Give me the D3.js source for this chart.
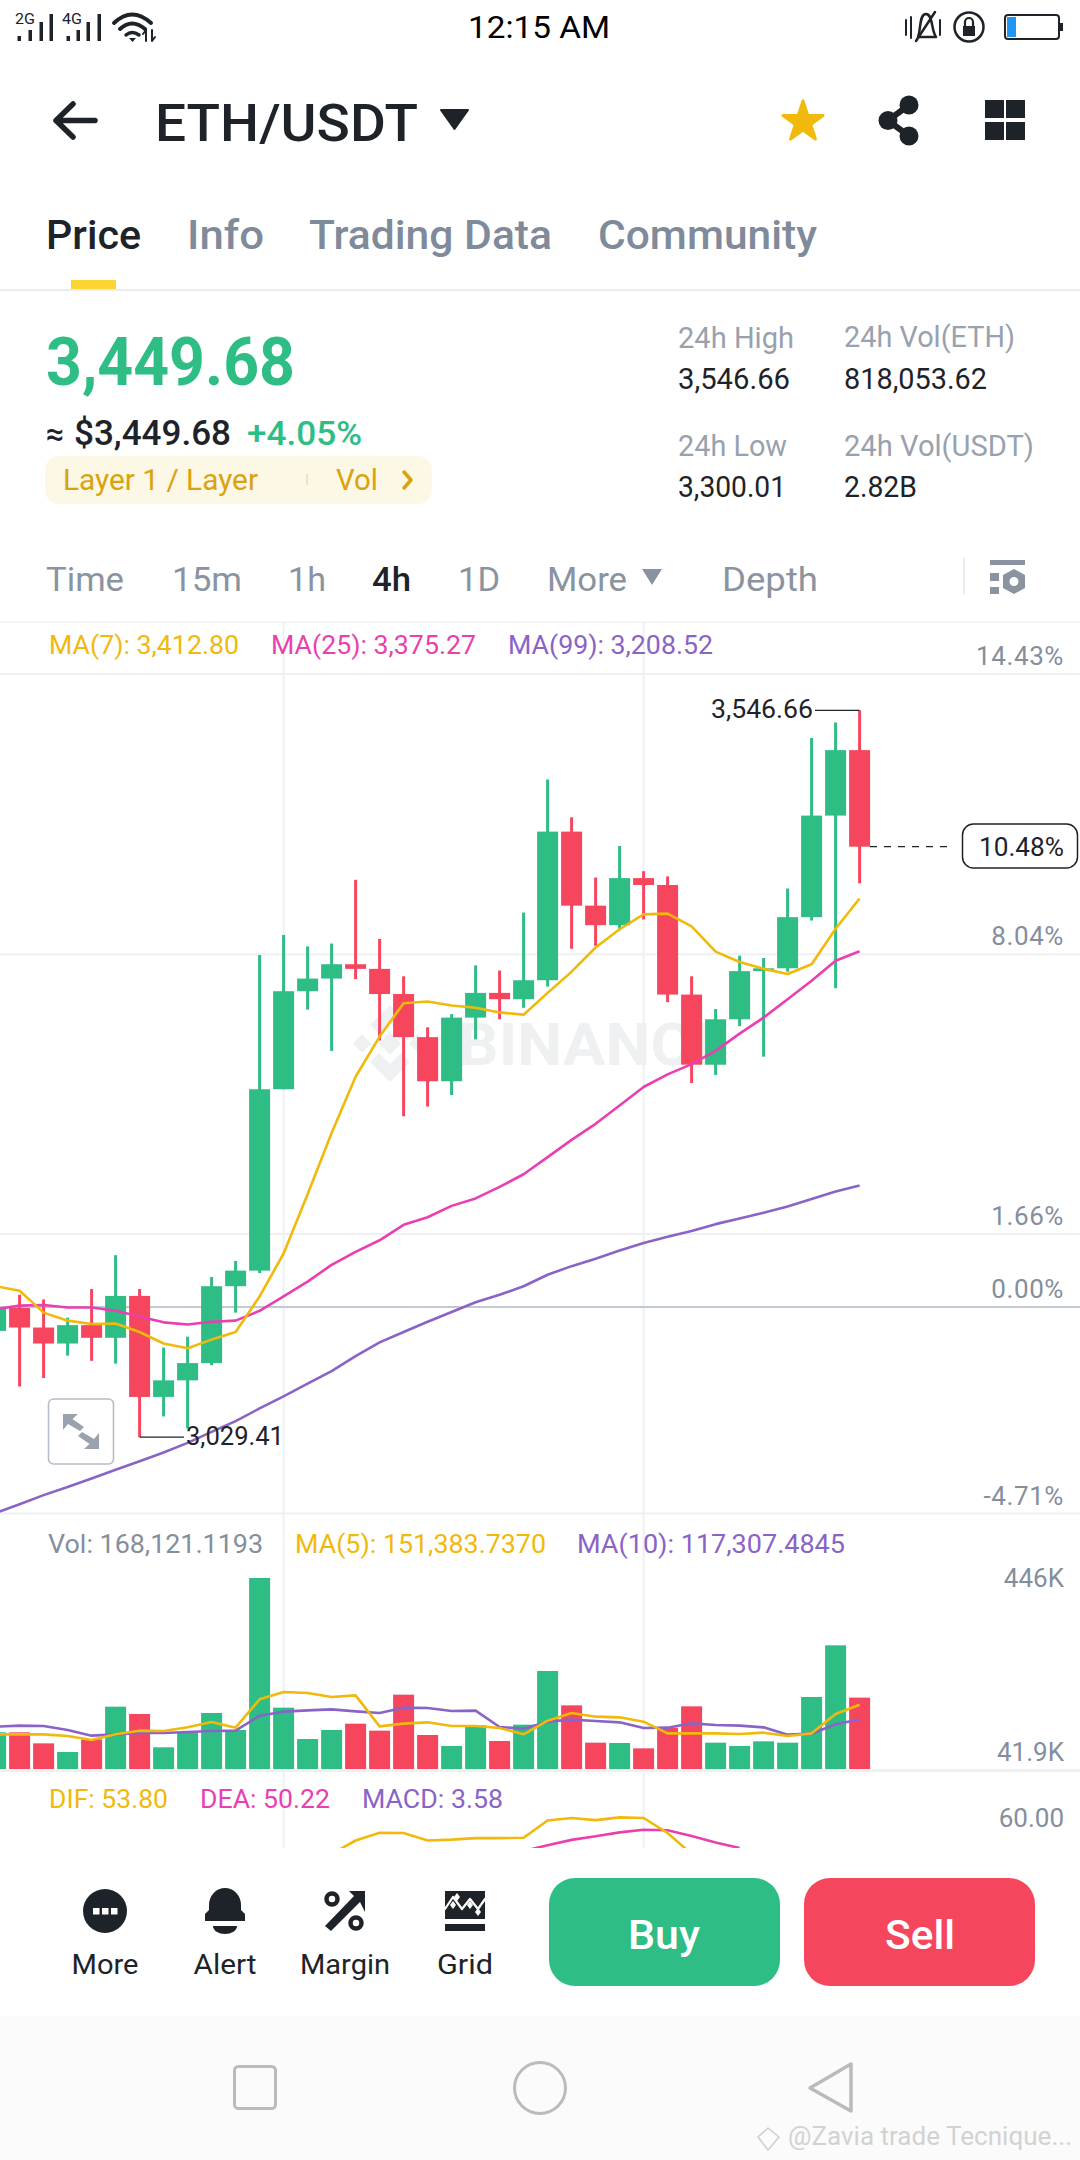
<!DOCTYPE html>
<html>
<head>
<meta charset="utf-8">
<title>ETH/USDT</title>
<script src="https://cdn.jsdelivr.net/npm/d3@7"></script>
<style>
  html, body { margin: 0; padding: 0; background: #fff; }
  svg { display: block; }
  text { font-family: Roboto, "Noto Sans", sans-serif; }
</style>
</head>
<body>
<div id="viz"></div>
<script>
// candles, oldest first; the first one is cut off by the left edge
const open  = [3105.0,3121.3,3107.4,3096.0,3109.1,3100.1,3129.9,3058.0,3069.8,3082.1,3136.8,3147.9,3277.0,3346.8,3355.8,3366.0,3362.7,3344.8,3314.1,3282.7,3328.0,3345.6,3341.1,3354.6,3460.4,3407.7,3393.8,3427.3,3422.4,3344.4,3294.5,3326.8,3361.1,3363.1,3399.5,3471.8,3518.4];
const high  = [3124.6,3130.7,3127.4,3114.4,3134.8,3158.9,3134.8,3093.1,3100.9,3143.4,3154.8,3372.5,3386.8,3378.7,3380.7,3426.1,3384.0,3357.4,3321.1,3330.5,3365.2,3361.5,3402.8,3497.5,3470.6,3427.7,3450.2,3432.2,3428.5,3357.4,3334.1,3372.1,3370.5,3419.9,3527.0,3538.0,3546.66];
const low   = [3103.0,3065.4,3071.5,3087.4,3083.7,3081.7,3029.41,3044.1,3035.5,3080.5,3118.0,3146.2,3277.0,3333.7,3304.3,3355.4,3311.7,3257.8,3264.7,3272.9,3312.5,3326.8,3335.0,3350.1,3377.0,3379.1,3390.1,3397.9,3339.0,3281.4,3287.2,3321.9,3300.2,3360.7,3397.1,3348.9,3423.6];
const close = [3121.3,3107.4,3096.0,3109.1,3100.1,3129.9,3058.0,3069.8,3082.1,3136.8,3147.9,3277.0,3346.8,3355.8,3366.0,3362.7,3344.8,3314.1,3282.7,3328.0,3345.6,3341.1,3354.6,3460.4,3407.7,3393.8,3427.3,3422.4,3344.4,3294.5,3326.8,3361.1,3363.1,3399.5,3471.8,3518.4,3449.68];

const ma7  = [3136.8,3133.6,3118.0,3112.3,3109.9,3110.3,3104.2,3096.0,3092.7,3098.8,3104.2,3129.5,3160.1,3202.2,3245.9,3285.9,3314.5,3338.2,3339.5,3336.6,3335.0,3331.7,3330.1,3345.6,3360.7,3377.9,3390.9,3401.5,3402.0,3393.0,3375.0,3367.6,3362.7,3359.1,3366.0,3391.3,3412.8];
const ma25 = [3120.5,3123.0,3123.4,3121.7,3121.7,3119.3,3115.2,3111.1,3109.5,3111.5,3112.3,3119.3,3129.5,3140.1,3152.0,3161.3,3169.5,3180.5,3185.9,3194.0,3199.3,3207.5,3216.5,3228.7,3241.0,3252.4,3265.5,3278.6,3287.6,3294.9,3304.3,3316.6,3328.0,3341.1,3354.2,3368.5,3375.27];
const ma99 = [2975.5,2981.6,2988.1,2993.9,3000.0,3006.1,3012.2,3018.4,3025.3,3033.1,3040.8,3049.8,3058.4,3067.4,3076.4,3087.0,3096.8,3104.2,3111.5,3118.5,3125.4,3130.7,3136.8,3145.0,3151.1,3156.4,3162.2,3167.5,3172.0,3176.1,3181.0,3185.0,3189.1,3193.6,3198.9,3204.2,3208.52];

const volume = [87500,87500,61900,41900,71200,147100,130100,52700,87500,132400,92900,446000,144800,72000,92900,107600,91400,175000,81300,55700,103800,67400,105300,230000,150200,63500,62700,50300,98300,147900,63500,55700,66600,63500,169600,289600,168121];
const volMa5  = [82850,82850,82850,78980,69690,82850,91370,90590,99110,111500,98340,164150,181190,178860,169570,173440,101430,107630,110720,102210,102210,97560,82850,114600,132400,123890,122340,112270,85170,85170,85170,83620,86720,78980,85170,130080,151384];
const volMa10 = [100660,102980,102210,92920,79750,82850,85950,85950,88270,90590,91370,126210,135500,138600,140920,136280,132400,144790,144020,137050,137830,99880,96010,112270,116920,113820,110720,97560,98340,108400,104530,102980,99110,82080,84400,106080,117307];

// only the top of the MACD lines is visible, the panel is cut by the toolbar
const difStart = 14;
const dif = [24,37.5,45.3,45,37.5,38.4,39.9,39.9,40.2,57.6,60,57.9,60.6,60,45,24];
const deaStart = 21;
const dea = [21,27,32.7,38.1,41.7,45.6,48.3,47.7,42,35.4,30];

const pctTicks = [14.43, 8.04, 1.66, 0, -4.71];
const volTicks = [446000, 41900];
const macdTicks = [60];
const lastPrice = 3449.68;
const lastPct = 10.48;
const basePrice = lastPrice / (1 + lastPct / 100);

const UP = '#2ebd85', DOWN = '#f6465d', DARK = '#1e2329', GREY = '#848e9c', GRID = '#eef0f2';
const YELLOW = '#f0b90b', PINK = '#e93fb0', PURPLE = '#8a63c7';

const svg = d3.select('#viz').append('svg').attr('width', 1080).attr('height', 2160).attr('viewBox', '0 0 1080 2160');

function txt(str, x, y, size, color, opt = {}) {
  const t = svg.append('text').attr('x', x).attr('y', y).attr('font-size', size).attr('fill', color)
    .attr('font-weight', opt.weight || 400).attr('text-anchor', opt.anchor || 'start').text(str);
  if (opt.w) t.attr('textLength', opt.w).attr('lengthAdjust', 'spacingAndGlyphs');
  return t;
}
function path(d, fill, stroke, sw) {
  return svg.append('path').attr('d', d).attr('fill', fill || 'none').attr('stroke', stroke || 'none')
    .attr('stroke-width', sw || 0).attr('stroke-linejoin', 'round').attr('stroke-linecap', 'round');
}

// ---- status bar
const signal = [[15, '2G', [19, 30, 41, 51]], [62, '4G', [68, 78, 88, 99]]];
const barTops = [36, 30, 22, 14];
signal.forEach(([x, lab, bars]) => {
  txt(lab, x, 24, 15, DARK, {w: 20});
  bars.forEach((b, i) => svg.append('rect').attr('x', b - 1.5).attr('y', barTops[i]).attr('width', 3.5).attr('height', 41 - barTops[i]).attr('fill', DARK));
});
path('M114 23 Q132 6 151 23', null, DARK, 4);
path('M120 29 Q132 18 145 29', null, DARK, 4);
path('M126 35 Q132 30 139 35', null, DARK, 3.5);
path('M129 38 L136 38 L132.5 42 Z', DARK);
path('M146 30 V41 M152 41 V30 M146 30 L143 34 M152 41 L155 37', null, DARK, 2);
txt('12:15 AM', 539, 38, 31, '#000', {anchor: 'middle', w: 142});
path('M918 37 C921 30 919 14 926 14 C933 14 931 30 936 37 Z', null, DARK, 2.5);
path('M935 12 L916 41', null, DARK, 2.5);
path('M906 20 V35 M911 17 V38 M940 20 V35', null, DARK, 2);
svg.append('circle').attr('cx', 969).attr('cy', 27).attr('r', 14.5).attr('fill', 'none').attr('stroke', DARK).attr('stroke-width', 2.5);
svg.append('rect').attr('x', 963).attr('y', 26).attr('width', 12).attr('height', 10).attr('fill', DARK);
path('M965 26 V22 A4 4 0 0 1 973 22 V26', null, DARK, 2.2);
svg.append('rect').attr('x', 1005).attr('y', 15).attr('width', 54).attr('height', 24).attr('rx', 3).attr('fill', 'none').attr('stroke', DARK).attr('stroke-width', 2);
svg.append('rect').attr('x', 1007).attr('y', 17).attr('width', 9).attr('height', 20).attr('fill', '#2196f3');
svg.append('rect').attr('x', 1060).attr('y', 23).attr('width', 3).attr('height', 8).attr('fill', DARK);

// ---- header
path('M95 120.5 H57 M73 104 L56 120.5 L73 137', null, DARK, 5.5);
txt('ETH/USDT', 155, 141, 51, DARK, {weight: 500, w: 263});
path('M441 110 H468 L454.5 129 Z', DARK, DARK, 2);
path(d3.symbol(d3.symbolStar, 500)(), YELLOW, YELLOW, 3).attr('transform', 'translate(803,122)');
path('M909 105 L888 120.5 L909 136', null, DARK, 6);
[[909, 105], [888, 120.5], [909, 136]].forEach(([cx, cy]) => svg.append('circle').attr('cx', cx).attr('cy', cy).attr('r', 9.5).attr('fill', DARK));
[[985, 100], [1006, 100], [985, 122], [1006, 122]].forEach(([rx, ry]) => svg.append('rect').attr('x', rx).attr('y', ry).attr('width', 19).attr('height', 18).attr('fill', DARK));

const tabLabels = [['Price', 46, 95, DARK], ['Info', 187, 77, '#7f8a9a'], ['Trading Data', 309, 243, '#7f8a9a'], ['Community', 598, 219, '#7f8a9a']];
tabLabels.forEach(([s, x, w, c]) => txt(s, x, 249, 41, c, {weight: 500, w}));
svg.append('rect').attr('x', 71).attr('y', 280).attr('width', 45).attr('height', 9).attr('fill', '#fcd535');
svg.append('rect').attr('x', 0).attr('y', 289).attr('width', 1080).attr('height', 2).attr('fill', '#eaecef');

// ---- price block
txt('3,449.68', 46, 385, 66, UP, {weight: 700, w: 249});
txt('≈', 46, 445, 32, DARK, {weight: 500});
txt('$3,449.68', 74, 445, 35, DARK, {weight: 500, w: 157});
txt('+4.05%', 247, 445, 33, UP, {weight: 500, w: 115});
svg.append('rect').attr('x', 45).attr('y', 456).attr('width', 387).attr('height', 48).attr('rx', 14).attr('fill', '#fdf7e6');
txt('Layer 1 / Layer', 63, 490, 29, '#d9a30f', {w: 195});
svg.append('rect').attr('x', 306).attr('y', 474).attr('width', 2).attr('height', 11).attr('fill', '#efe3bd');
txt('Vol', 336, 490, 29, '#d9a30f', {w: 42});
path('M404 472 L411 480 L404 488', null, '#d9a30f', 3.5);

const statLabels = [['24h High', 678, 348, 116], ['24h Vol(ETH)', 844, 347, 171], ['24h Low', 678, 456, 109], ['24h Vol(USDT)', 844, 456, 190]];
const statValues = [['3,546.66', 678, 389, 112], ['818,053.62', 844, 389, 143], ['3,300.01', 678, 497, 108], ['2.82B', 844, 497, 73]];
statLabels.forEach(([s, x, y, w]) => txt(s, x, y, 29, '#98a1ae', {w}));
statValues.forEach(([s, x, y, w]) => txt(s, x, y, 29, DARK, {w}));

const intervals = [['Time', 46, 78], ['15m', 172, 70], ['1h', 288, 38], ['4h', 372, 39], ['1D', 458, 42], ['More', 547, 80], ['Depth', 722, 96]];
intervals.forEach(([s, x, w]) => txt(s, x, 591, 33, s === '4h' ? DARK : '#8a93a0', {w, weight: s === '4h' ? 500 : 400}));
path('M642 569 H662 L652 585 Z', '#8a93a0');
svg.append('rect').attr('x', 963).attr('y', 558).attr('width', 2).attr('height', 36).attr('fill', '#eaecef');
svg.append('rect').attr('x', 990).attr('y', 560).attr('width', 35).attr('height', 5).attr('fill', '#8a93a0');
svg.append('rect').attr('x', 990).attr('y', 573).attr('width', 9).attr('height', 8).attr('fill', '#8a93a0');
svg.append('rect').attr('x', 990).attr('y', 587).attr('width', 9).attr('height', 7).attr('fill', '#8a93a0');
path('M1014 569 L1025 575 V588 L1014 594 L1003 588 V575 Z', '#8a93a0');
svg.append('circle').attr('cx', 1014).attr('cy', 581.5).attr('r', 4.5).attr('fill', '#fff');

// ---- scales
const n = open.length;
const x = d3.scaleLinear().domain([0, n - 1]).range([-4.4, 859.6]);
const yPct = d3.scaleLinear().domain([-4.71, 14.43]).range([1513, 673.4]);
const toPct = p => (p / basePrice - 1) * 100;
const y = p => yPct(toPct(p));
const yVol = d3.scaleLinear().domain([0, 446000]).range([1770, 1578]);
const yMacd = d3.scaleLinear().domain([0, 60]).range([1878, 1818]);
const BODY = 21;
const color = i => close[i] >= open[i] ? UP : DOWN;

// top rule and the two vertical grid lines
svg.append('rect').attr('x', 0).attr('y', 621).attr('width', 1080).attr('height', 2).attr('fill', '#f5f5f5');
[11, 26].forEach(i => {
  svg.append('line').attr('x1', x(i + 1)).attr('x2', x(i + 1)).attr('y1', 623).attr('y2', 1848).attr('stroke', GRID).attr('stroke-width', 2);
});

// watermark goes under the candles
const wm = svg.append('g').attr('fill', '#eef0f1').attr('stroke', 'none');
wm.append('path').attr('d', 'M390 1005 L410 1025 L401 1034 L390 1023 L379 1034 L370 1025 Z M390 1082 L370 1062 L379 1053 L390 1064 L401 1053 L410 1062 Z M353 1043.5 L362 1034 L371 1043.5 L362 1053 Z M409 1043.5 L418 1034 L427 1043.5 L418 1053 Z M390 1032 L401 1043.5 L390 1055 L379 1043.5 Z');
txt('BINANCE', 458, 1065, 60, '#eef0f1', {weight: 700, w: 270});

// ---- price axis
const pctAxis = d3.axisRight(yPct).tickValues(pctTicks).tickSize(-1080).tickPadding(-16)
  .tickFormat(d => d.toFixed(2) + '%');
const gPct = svg.append('g').attr('transform', 'translate(1080,0)').call(pctAxis);
gPct.select('.domain').remove();
gPct.selectAll('line').attr('stroke', d => d === 0 ? '#c3c9d3' : GRID).attr('stroke-width', 2);
gPct.selectAll('text').attr('text-anchor', 'end').attr('dy', 0).attr('y', -9).attr('fill', GREY).attr('font-size', 26)
  .style('font-family', 'Roboto').style('letter-spacing', '0.6px');

// ---- candles
const idx = d3.range(n);
svg.append('g').selectAll('line').data(idx).join('line')
  .attr('x1', i => x(i)).attr('x2', i => x(i))
  .attr('y1', i => y(high[i])).attr('y2', i => y(low[i]))
  .attr('stroke', color).attr('stroke-width', 3);
svg.append('g').selectAll('rect').data(idx).join('rect')
  .attr('x', i => x(i) - BODY / 2).attr('width', BODY)
  .attr('y', i => y(Math.max(open[i], close[i])))
  .attr('height', i => Math.max(2, Math.abs(y(open[i]) - y(close[i]))))
  .attr('fill', color);

const priceLine = d3.line().x((d, i) => x(i)).y(d => y(d));
[[ma99, PURPLE], [ma25, PINK], [ma7, YELLOW]].forEach(([s, c]) => {
  svg.append('path').datum(s).attr('d', priceLine).attr('fill', 'none').attr('stroke', c).attr('stroke-width', 2.6).attr('stroke-linejoin', 'round');
});

txt('MA(7): 3,412.80', 49, 654, 25, YELLOW, {w: 190});
txt('MA(25): 3,375.27', 271, 654, 25, PINK, {w: 205});
txt('MA(99): 3,208.52', 508, 654, 25, PURPLE, {w: 205});

// high / low callouts
const hiI = high.indexOf(d3.max(high)), loI = low.indexOf(d3.min(low));
svg.append('line').attr('x1', 815).attr('x2', x(hiI)).attr('y1', y(high[hiI])).attr('y2', y(high[hiI])).attr('stroke', DARK).attr('stroke-width', 1.2);
txt('3,546.66', 711, 718, 25, DARK, {w: 102});
svg.append('line').attr('x1', x(loI)).attr('x2', 184).attr('y1', y(low[loI])).attr('y2', y(low[loI])).attr('stroke', DARK).attr('stroke-width', 1.2);
txt('3,029.41', 186, 1445, 25, DARK, {w: 98});

// last price marker
svg.append('line').attr('x1', 870).attr('x2', 950).attr('y1', y(lastPrice)).attr('y2', y(lastPrice)).attr('stroke', DARK).attr('stroke-width', 1.2).attr('stroke-dasharray', '7 7');
svg.append('rect').attr('x', 962.5).attr('y', 824).attr('width', 115).attr('height', 44).attr('rx', 11).attr('fill', '#fff').attr('stroke', DARK).attr('stroke-width', 1.5);
txt('10.48%', 1064, 856, 26, DARK, {anchor: 'end', w: 85});

// expand button
svg.append('rect').attr('x', 48.5).attr('y', 1399).attr('width', 65).attr('height', 65).attr('rx', 5).attr('fill', '#fff').attr('stroke', '#b7bdc6').attr('stroke-width', 1.6);
path('M63 1414 H78 L72.5 1419 L84 1427 L80 1431 L68 1424 L63 1430 Z M99 1449 H84 L89.5 1444 L78 1436 L82 1432 L94 1439 L99 1433 Z', '#9aa2ad');

// ---- volume panel
txt('Vol: 168,121.1193', 48, 1553, 25, GREY, {w: 215});
txt('MA(5): 151,383.7370', 295, 1553, 25, YELLOW, {w: 251});
txt('MA(10): 117,307.4845', 577, 1553, 25, PURPLE, {w: 268});

svg.append('g').selectAll('rect').data(idx).join('rect')
  .attr('x', i => x(i) - BODY / 2).attr('width', BODY)
  .attr('y', i => yVol(volume[i])).attr('height', i => yVol(0) - yVol(volume[i]))
  .attr('fill', color);

const volLine = d3.line().x((d, i) => x(i)).y(d => yVol(d));
[[volMa10, PURPLE], [volMa5, YELLOW]].forEach(([s, c]) => {
  svg.append('path').datum(s).attr('d', volLine).attr('fill', 'none').attr('stroke', c).attr('stroke-width', 2.6).attr('stroke-linejoin', 'round');
});

const volAxis = d3.axisRight(yVol).tickValues(volTicks).tickSize(0).tickPadding(-16)
  .tickFormat(d => d >= 100000 ? Math.round(d / 1000) + 'K' : (d / 1000).toFixed(1) + 'K');
const gVol = svg.append('g').attr('transform', 'translate(1080,0)').call(volAxis);
gVol.select('.domain').remove();
gVol.selectAll('text').attr('text-anchor', 'end').attr('fill', GREY).attr('font-size', 26);
svg.append('rect').attr('x', 0).attr('y', 1769).attr('width', 1080).attr('height', 3).attr('fill', GRID);

// ---- MACD panel, clipped where the toolbar starts
txt('DIF: 53.80', 49, 1808, 25, YELLOW, {w: 119});
txt('DEA: 50.22', 200, 1808, 25, PINK, {w: 130});
txt('MACD: 3.58', 362, 1808, 25, PURPLE, {w: 141});
svg.append('clipPath').attr('id', 'macd-clip').append('rect').attr('x', 0).attr('y', 1772).attr('width', 1080).attr('height', 76);
const macdG = svg.append('g').attr('clip-path', 'url(#macd-clip)');
macdG.append('path').datum(dea).attr('d', d3.line().x((d, i) => x(deaStart + i)).y(d => yMacd(d)))
  .attr('fill', 'none').attr('stroke', PINK).attr('stroke-width', 2.6);
macdG.append('path').datum(dif).attr('d', d3.line().x((d, i) => x(difStart + i)).y(d => yMacd(d)))
  .attr('fill', 'none').attr('stroke', YELLOW).attr('stroke-width', 2.6);
const macdAxis = d3.axisRight(yMacd).tickValues(macdTicks).tickSize(0).tickPadding(-16).tickFormat(d => d.toFixed(2));
const gMacd = svg.append('g').attr('transform', 'translate(1080,0)').call(macdAxis);
gMacd.select('.domain').remove();
gMacd.selectAll('text').attr('text-anchor', 'end').attr('fill', GREY).attr('font-size', 26);

// ---- toolbar
svg.append('circle').attr('cx', 105).attr('cy', 1911).attr('r', 22).attr('fill', DARK);
[96, 105, 114].forEach(cx => svg.append('rect').attr('x', cx - 3).attr('y', 1908).attr('width', 6.5).attr('height', 6.5).attr('fill', '#fff'));
path('M205 1921 V1914 L209 1910 V1905 A16 17 0 0 1 241 1905 V1910 L245 1914 V1921 Z', DARK);
path('M213 1926 H237 A12 8 0 0 1 213 1926 Z', DARK);
path('M349 1891 H365 V1912 L360 1902 L331 1931 L325 1926 L354 1896 Z', DARK);
svg.append('circle').attr('cx', 332).attr('cy', 1899).attr('r', 5.5).attr('fill', 'none').attr('stroke', DARK).attr('stroke-width', 4.5);
svg.append('circle').attr('cx', 356).attr('cy', 1923).attr('r', 5.5).attr('fill', 'none').attr('stroke', DARK).attr('stroke-width', 4.5);
svg.append('rect').attr('x', 445).attr('y', 1891).attr('width', 40).attr('height', 28).attr('fill', DARK);
svg.append('rect').attr('x', 445).attr('y', 1924).attr('width', 40).attr('height', 7).attr('fill', DARK);
path('M445 1909 L453 1897 L462 1909 L470 1899 L478 1909 L485 1899', null, '#fff', 2.2);
[[457, 1897], [470, 1905], [453, 1905], [478, 1912]].forEach(([cx, cy]) => path(`M${cx} ${cy - 4} L${cx + 3} ${cy} L${cx} ${cy + 4} L${cx - 3} ${cy} Z`, '#fff'));
const toolLabels = [['More', 105, 67], ['Alert', 225, 63], ['Margin', 345, 90], ['Grid', 465, 56]];
toolLabels.forEach(([s, cx, w]) => txt(s, cx, 1974, 27, DARK, {anchor: 'middle', w}));
svg.append('rect').attr('x', 549).attr('y', 1878).attr('width', 231).attr('height', 108).attr('rx', 26).attr('fill', UP);
svg.append('rect').attr('x', 804).attr('y', 1878).attr('width', 231).attr('height', 108).attr('rx', 26).attr('fill', DOWN);
txt('Buy', 664, 1949, 40, '#fff', {anchor: 'middle', weight: 500, w: 72});
txt('Sell', 920, 1949, 40, '#fff', {anchor: 'middle', weight: 500, w: 70});

// ---- navigation bar
svg.append('rect').attr('x', 0).attr('y', 2016).attr('width', 1080).attr('height', 144).attr('fill', '#fbfbfb');
svg.append('rect').attr('x', 234.5).attr('y', 2066.5).attr('width', 41).attr('height', 42).attr('rx', 4).attr('fill', 'none').attr('stroke', '#bbb').attr('stroke-width', 3);
svg.append('circle').attr('cx', 540).attr('cy', 2088).attr('r', 25.5).attr('fill', 'none').attr('stroke', '#bbb').attr('stroke-width', 3);
path('M851 2064 V2111 L810 2088 Z', null, '#bbb', 3.5);
txt('@Zavia trade Tecnique...', 788, 2145, 25, '#d2d2d2', {w: 284});
path('M758 2137 L768 2128 L779 2137 L768 2150 Z', null, '#cfcfcf', 1.6);
</script>
</body>
</html>
